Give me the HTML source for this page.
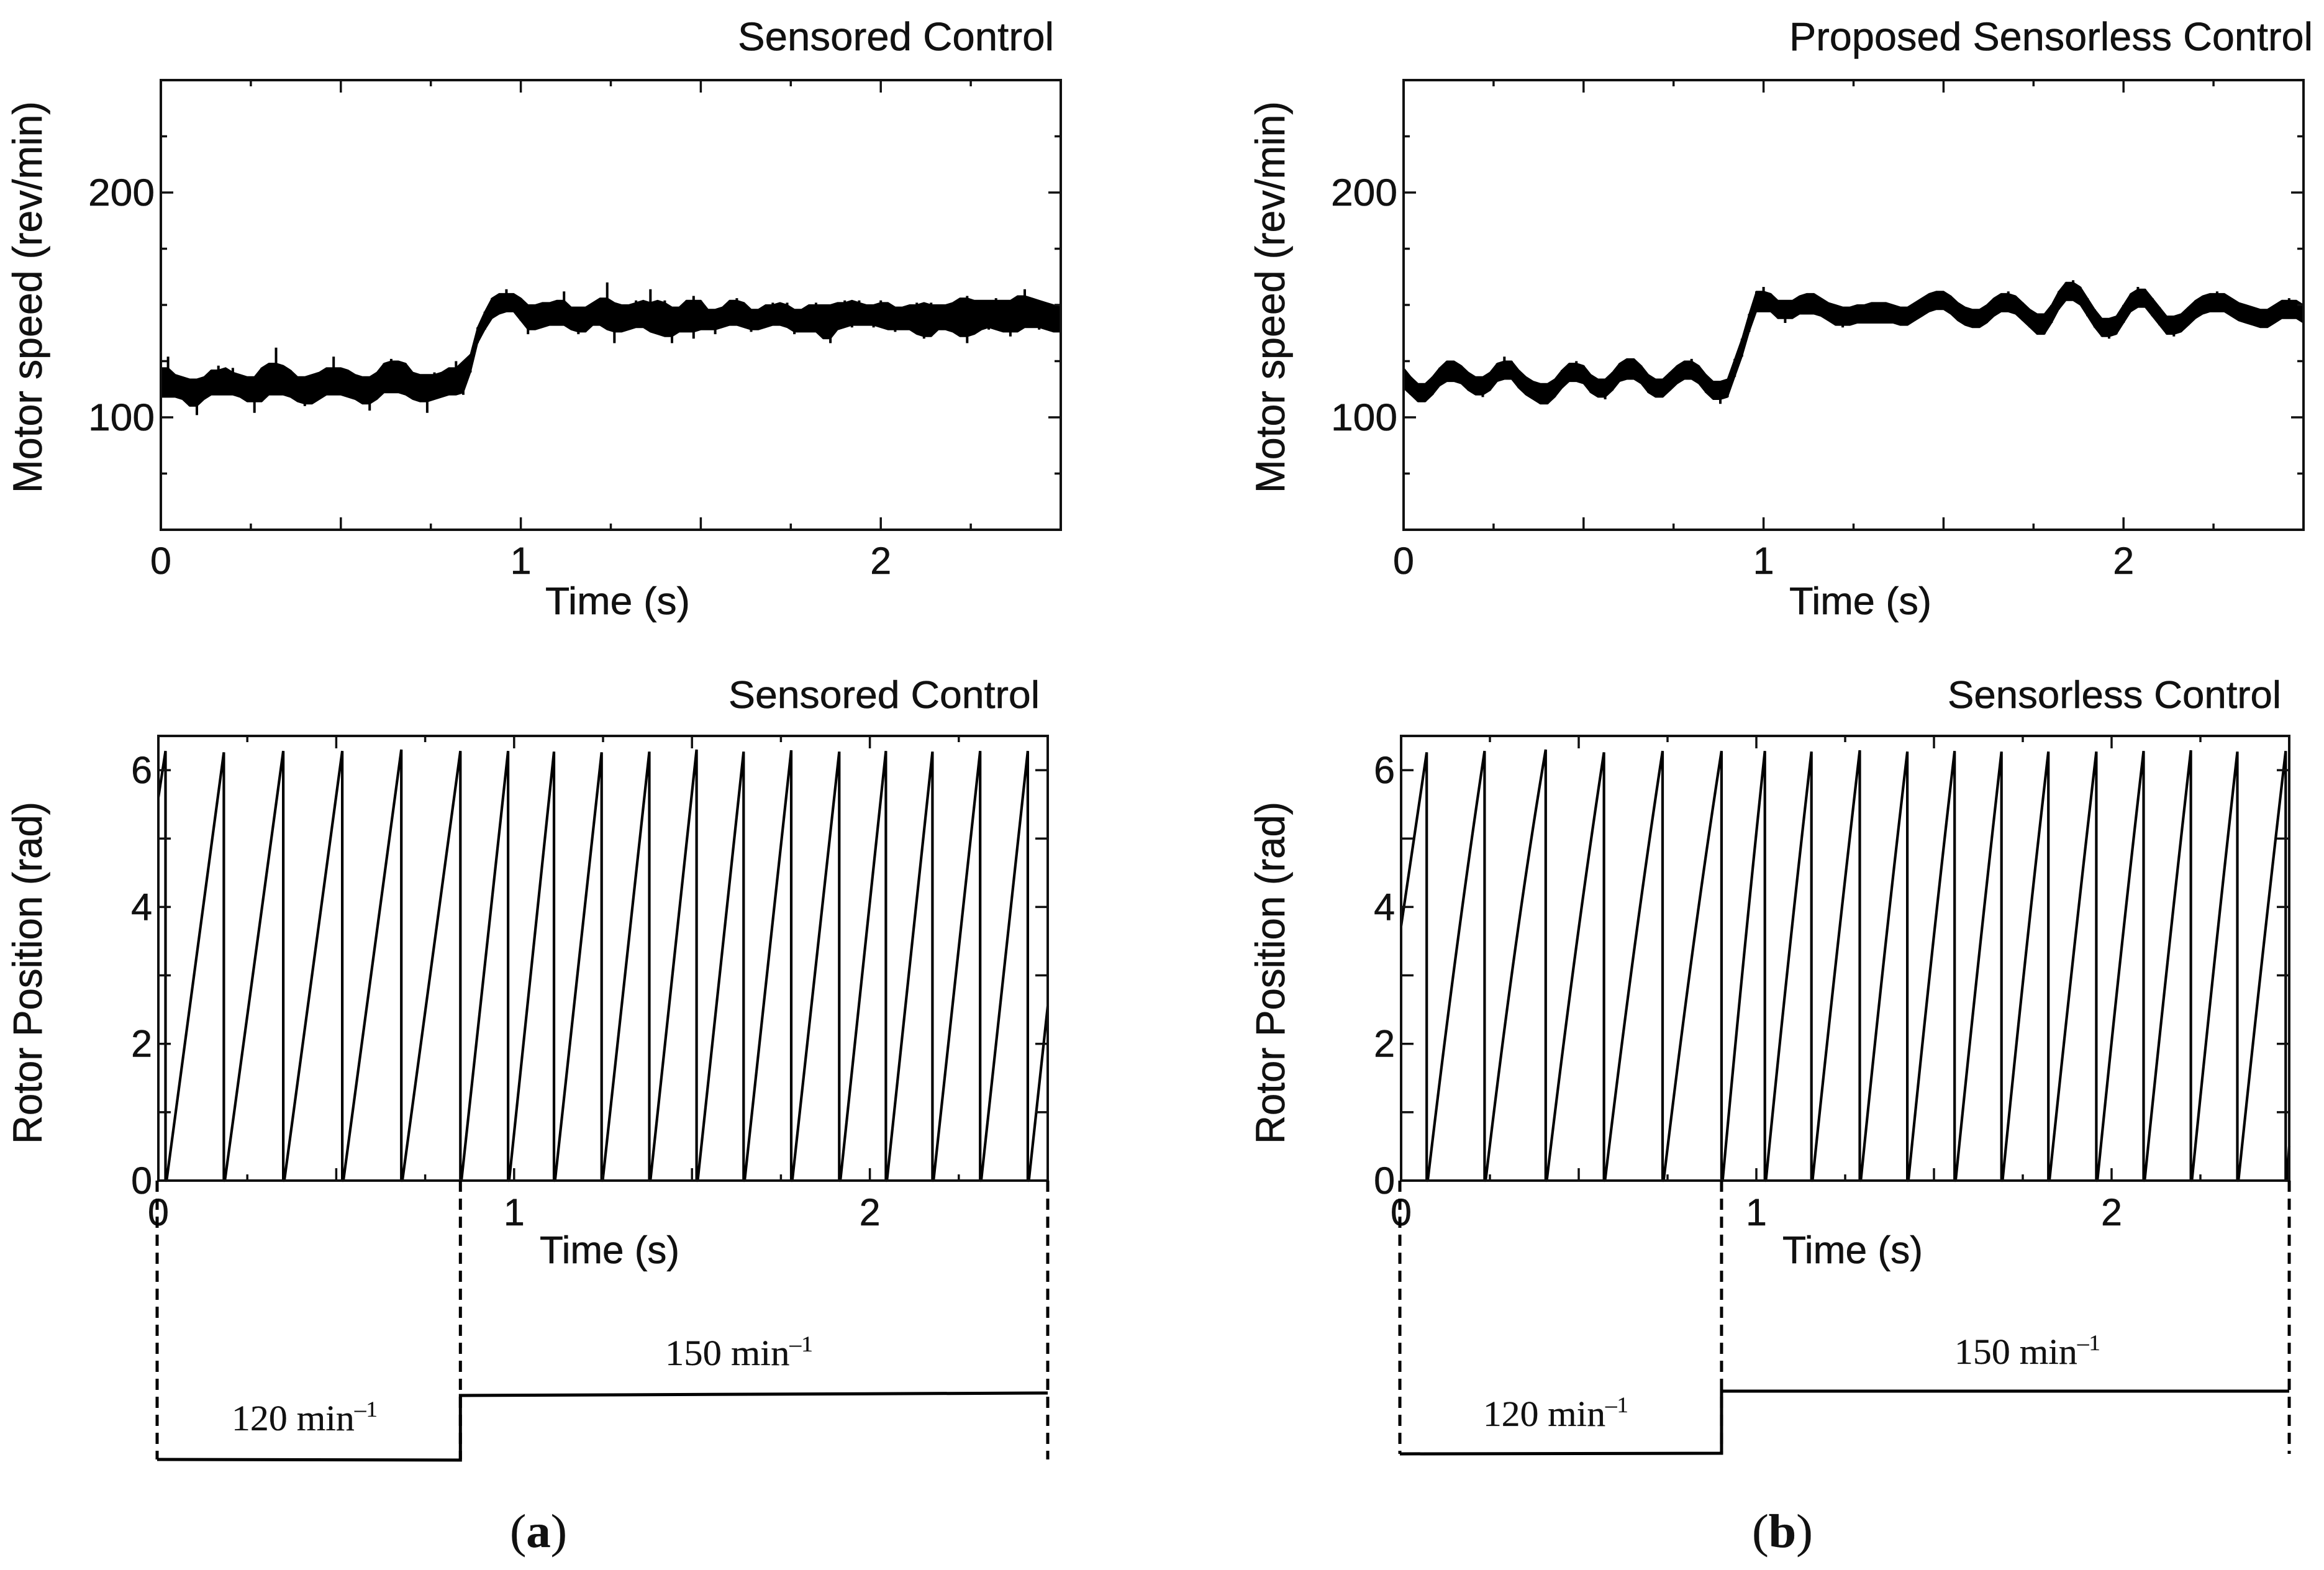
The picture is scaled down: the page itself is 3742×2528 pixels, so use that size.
<!DOCTYPE html>
<html lang="en">
<head>
<meta charset="utf-8">
<title>Motor speed and rotor position: sensored vs sensorless control</title>
<style>
html,body{margin:0;padding:0;background:#fff;}
svg{display:block;}
text{fill:#111;font-family:"Liberation Sans",sans-serif;stroke:#111;stroke-width:0.6;}
.serif{font-family:"Liberation Serif",serif;stroke-width:0.3;}
</style>
</head>
<body>
<svg id="figure" xmlns="http://www.w3.org/2000/svg" width="3742" height="2528" viewBox="0 0 3742 2528">
  <rect x="0" y="0" width="3742" height="2528" fill="#fff"/>

  <text x="1188" y="81" font-size="64" textLength="509" lengthAdjust="spacingAndGlyphs">Sensored Control</text>
  <text x="2881" y="81" font-size="64" textLength="843" lengthAdjust="spacingAndGlyphs">Proposed Sensorless Control</text>
  <text x="1173" y="1140" font-size="62" textLength="501" lengthAdjust="spacingAndGlyphs">Sensored Control</text>
  <text x="3136" y="1140" font-size="62" textLength="537" lengthAdjust="spacingAndGlyphs">Sensorless Control</text>

  <text transform="translate(67 794) rotate(-90)" font-size="66" textLength="631" lengthAdjust="spacingAndGlyphs">Motor speed (rev/min)</text>
  <text transform="translate(2068 794) rotate(-90)" font-size="66" textLength="631" lengthAdjust="spacingAndGlyphs">Motor speed (rev/min)</text>
  <text transform="translate(67 1842) rotate(-90)" font-size="66" textLength="551" lengthAdjust="spacingAndGlyphs">Rotor Position (rad)</text>
  <text transform="translate(2068 1842) rotate(-90)" font-size="66" textLength="551" lengthAdjust="spacingAndGlyphs">Rotor Position (rad)</text>

  <text x="878" y="989" font-size="62" textLength="233" lengthAdjust="spacingAndGlyphs">Time (s)</text>
  <text x="2881" y="989" font-size="62" textLength="229" lengthAdjust="spacingAndGlyphs">Time (s)</text>
  <text x="869" y="2034" font-size="62" textLength="225" lengthAdjust="spacingAndGlyphs">Time (s)</text>
  <text x="2870" y="2034" font-size="62" textLength="226" lengthAdjust="spacingAndGlyphs">Time (s)</text>

  <text class="serif" x="373" y="2303" font-size="58" textLength="235" lengthAdjust="spacingAndGlyphs">120 min<tspan font-size="36" dy="-22">–1</tspan></text>
  <text class="serif" x="1071" y="2198" font-size="58" textLength="238" lengthAdjust="spacingAndGlyphs">150 min<tspan font-size="36" dy="-22">–1</tspan></text>
  <text class="serif" x="2388" y="2296" font-size="58" textLength="234" lengthAdjust="spacingAndGlyphs">120 min<tspan font-size="36" dy="-22">–1</tspan></text>
  <text class="serif" x="3147" y="2196" font-size="58" textLength="235" lengthAdjust="spacingAndGlyphs">150 min<tspan font-size="36" dy="-22">–1</tspan></text>

  <text class="serif" x="821" y="2491" font-size="76" textLength="92" lengthAdjust="spacingAndGlyphs">(<tspan font-weight="bold">a</tspan>)</text>
  <text class="serif" x="2821" y="2491" font-size="76" textLength="98" lengthAdjust="spacingAndGlyphs">(<tspan font-weight="bold">b</tspan>)</text>

  <g id="plots"></g>
</svg>

<script>
// ---------- Shared axis data ----------
const timeMax = 2.5;
const speedSampleStep = 0.02;
const timeTicks = [0, 0.25, 0.5, 0.75, 1, 1.25, 1.5, 1.75, 2, 2.25, 2.5];
const timeMajorTicks = [0, 0.5, 1, 1.5, 2, 2.5];
const timeTickLabels = [0, 1, 2];
const speedTicks = [50, 75, 100, 125, 150, 175, 200, 225, 250];
const speedMajorTicks = [100, 200];
const speedTickLabels = [100, 200];
const positionTicks = [0, 1, 2, 3, 4, 5, 6];
const positionMajorTicks = [0, 1, 2, 3, 4, 5, 6];
const positionTickLabels = [0, 2, 4, 6];

// ---------- Motor speed, sensored (upper / lower edge of the noisy trace, rev/min) ----------
const speedSensoredHigh = [122,127,119,118,117,116,118,121,123,120,122,119,117,118,122,124,131,123,121,118,117,119,120,122,127,122,121,119,118,117,120,124,126,125,124,120,119,118,120,119,122,125,119,128,140,147,153,155,157,155,153,150,149,151,151,152,156,149,149,147,151,153,160,151,150,149,152,151,157,151,152,149,148,152,154,152,148,147,149,152,153,151,148,147,150,151,150,151,148,147,150,151,150,149,151,152,151,152,150,148,152,151,149,148,150,151,149,151,150,148,151,153,154,152,152,150,153,152,151,154,157,153,152,151,150,149];
const speedSensoredLow = [109,110,109,108,105,101,108,110,111,110,110,109,107,102,107,110,112,110,109,107,105,106,108,110,111,110,109,108,106,103,108,111,112,111,110,108,107,102,108,109,110,111,110,120,133,139,144,146,148,147,143,137,139,140,141,142,141,139,137,138,141,141,139,133,138,139,141,140,138,137,136,133,139,138,135,139,139,137,140,141,142,140,138,139,140,141,141,140,137,138,139,138,135,133,139,141,140,141,142,140,141,139,138,139,141,137,135,136,139,140,138,136,133,137,140,139,141,138,136,138,140,141,139,140,138,138];

// ---------- Motor speed, proposed sensorless (upper / lower edge, rev/min) ----------
const speedSensorlessHigh = [122,118,115,115,118,122,125,125,123,120,118,118,120,124,127,125,121,118,116,114,115,117,121,124,125,123,119,117,117,120,124,126,126,123,119,117,117,120,123,125,126,123,119,116,115,117,126,135,146,156,158,155,152,151,152,154,155,155,153,151,150,149,149,150,150,151,151,151,150,149,149,151,153,155,156,156,154,151,149,148,148,150,153,155,156,154,151,148,145,146,150,156,160,161,158,153,148,144,143,145,150,155,158,157,153,149,145,144,146,149,152,154,155,156,155,153,151,150,149,148,148,150,152,153,152,150];
const speedSensorlessLow = [113,110,107,107,110,114,116,117,115,112,110,109,112,116,119,117,113,110,108,106,106,109,113,116,117,115,111,109,108,112,116,118,117,115,111,109,109,112,115,117,118,115,111,108,106,109,118,127,138,147,148,147,144,142,144,146,147,146,145,143,141,140,141,142,142,142,143,142,142,141,141,143,145,147,148,148,146,143,141,140,140,142,145,147,148,146,143,140,137,137,142,148,152,153,150,145,140,136,135,137,142,147,150,149,145,141,137,136,138,141,144,146,147,148,147,145,143,142,141,140,140,142,144,145,144,142];

// ---------- Rotor position, sensored (times of each wrap in s, values in rad) ----------
const positionSensoredWrapTimes = [0.02,0.184,0.351,0.517,0.683,0.849,0.983,1.112,1.246,1.38,1.513,1.645,1.779,1.914,2.045,2.176,2.31,2.444];
const positionSensoredPeaks = [6.28,6.26,6.28,6.28,6.3,6.28,6.28,6.27,6.26,6.27,6.3,6.27,6.29,6.27,6.28,6.27,6.28,6.28];
const positionSensoredMidValues = [];
const positionSensoredStart = 5.6;
const positionSensoredEnd = 2.55;

// ---------- Rotor position, sensorless ----------
const positionSensorlessWrapTimes = [0.072,0.235,0.407,0.571,0.736,0.902,1.024,1.155,1.291,1.425,1.558,1.69,1.822,1.957,2.09,2.223,2.354,2.49];
const positionSensorlessPeaks = [6.26,6.28,6.3,6.26,6.28,6.28,6.28,6.27,6.29,6.27,6.28,6.27,6.27,6.27,6.28,6.29,6.27,6.28];
const positionSensorlessMidValues = [null,3.33,3.43,3.32,3.33,3.35,3.25,3.25,3.22,3.25,3.25,3.22,3.25,3.22,3.25,3.22,3.22,3.22];
const positionSensorlessStart = 3.72;
const positionSensorlessEnd = 0.5;

// ---------- Speed command step strips (event times in s) ----------
const stepTimesSensored = [0, 0.849, 2.5];
const stepTimesSensorless = [0, 0.902, 2.5];

// ---------- Rendering ----------
const SVG_NS = 'http://www.w3.org/2000/svg';
const plots = document.getElementById('plots');

function makeNode(tag, name, parent) {
  const el = document.createElementNS(SVG_NS, tag);
  
  
  parent.appendChild(el);
  return el;
}

function axisFunctions(box, yMin, yMax) {
  return {
    x: function (t) { return box.left + (t / timeMax) * (box.right - box.left); },
    y: function (v) { return box.bottom - ((v - yMin) / (yMax - yMin)) * (box.bottom - box.top); }
  };
}

function addLine(parent, name, x1, y1, x2, y2, width) {
  const l = makeNode('line', name, parent);
  l.setAttribute('x1', x1);
  l.setAttribute('y1', y1);
  l.setAttribute('x2', x2);
  l.setAttribute('y2', y2);
  l.setAttribute('stroke', '#111');
  l.setAttribute('stroke-width', width);
  return l;
}

function addLabel(parent, name, x, y, anchor, str, fit) {
  const t = makeNode('text', name, parent);
  t.setAttribute('x', x);
  t.setAttribute('y', y);
  t.setAttribute('font-size', '61');
  t.setAttribute('text-anchor', anchor);
  if (fit) {
    t.setAttribute('textLength', fit);
    t.setAttribute('lengthAdjust', 'spacingAndGlyphs');
  }
  t.textContent = str;
}

function drawFrame(group, box, scale, cfg) {
  const frame = makeNode('rect', 'plot-frame', group);
  frame.setAttribute('x', box.left);
  frame.setAttribute('y', box.top);
  frame.setAttribute('width', box.right - box.left);
  frame.setAttribute('height', box.bottom - box.top);
  frame.setAttribute('fill', 'none');
  frame.setAttribute('stroke', '#111');
  frame.setAttribute('stroke-width', '4');

  timeTicks.forEach(function (t) {
    const len = timeMajorTicks.indexOf(t) >= 0 ? 20 : 10;
    const x = scale.x(t);
    addLine(group, 'x-tick-bottom', x, box.bottom, x, box.bottom - len, 3.5);
    addLine(group, 'x-tick-top', x, box.top, x, box.top + len, 3.5);
  });
  cfg.yTicks.forEach(function (v) {
    const len = cfg.yMajor.indexOf(v) >= 0 ? 20 : 10;
    const y = scale.y(v);
    addLine(group, 'y-tick-left', box.left, y, box.left + len, y, 3.5);
    addLine(group, 'y-tick-right', box.right, y, box.right - len, y, 3.5);
  });
  timeTickLabels.forEach(function (t) {
    addLabel(group, 'x-tick-label', scale.x(t), cfg.xLabelBaseline, 'middle', String(t));
  });
  cfg.yLabels.forEach(function (v) {
    addLabel(group, 'y-tick-label', box.left - 10, scale.y(v) + 21, 'end', String(v), cfg.yLabelFit);
  });
}

function middleOfThree(a, b, c) {
  return Math.max(Math.min(a, b), Math.min(Math.max(a, b), c));
}

function drawSpeedTrace(group, scale, high, low) {
  const n = high.length;
  let top = '';
  let bottom = '';
  let spikes = '';
  high.forEach(function (h, i) {
    const x = scale.x(i * speedSampleStep).toFixed(1);
    // solid body of the trace: isolated spikes are left to the thin noise strokes
    const coreHigh = middleOfThree(high[Math.max(i - 1, 0)], h, high[Math.min(i + 1, n - 1)]);
    const coreLow = middleOfThree(low[Math.max(i - 1, 0)], low[i], low[Math.min(i + 1, n - 1)]);
    top += (i === 0 ? 'M' : 'L') + x + ' ' + scale.y(coreHigh).toFixed(1) + ' ';
    bottom = 'L' + x + ' ' + scale.y(coreLow).toFixed(1) + ' ' + bottom;
    spikes += 'M' + x + ' ' + scale.y(h).toFixed(1) + ' V' + scale.y(low[i]).toFixed(1) + ' ';
  });
  const body = makeNode('path', 'speed-trace-body', group);
  body.setAttribute('d', top + bottom + 'Z');
  body.setAttribute('fill', '#000');
  body.setAttribute('stroke', '#000');
  body.setAttribute('stroke-width', '2');
  const noise = makeNode('path', 'speed-trace-noise', group);
  noise.setAttribute('d', spikes);
  noise.setAttribute('fill', 'none');
  noise.setAttribute('stroke', '#000');
  noise.setAttribute('stroke-width', '4');
}

function drawSawtooth(group, scale, wraps, peaks, mids, start, end) {
  const lag = 0.003;
  let d = 'M' + scale.x(0).toFixed(1) + ' ' + scale.y(start).toFixed(1) + ' ';
  let prev = 0;
  wraps.forEach(function (t, i) {
    if (mids[i] !== undefined && mids[i] !== null) {
      // curve through the value read at the middle of the ramp
      const control = 2 * mids[i] - peaks[i] / 2;
      d += 'Q' + scale.x((prev + t) / 2).toFixed(1) + ' ' + scale.y(control).toFixed(1) + ' ' + scale.x(t).toFixed(1) + ' ' + scale.y(peaks[i]).toFixed(1) + ' ';
    } else {
      d += 'L' + scale.x(t).toFixed(1) + ' ' + scale.y(peaks[i]).toFixed(1) + ' ';
    }
    d += 'L' + scale.x(t).toFixed(1) + ' ' + scale.y(0).toFixed(1) + ' ';
    d += 'L' + scale.x(t + lag).toFixed(1) + ' ' + scale.y(0).toFixed(1) + ' ';
    prev = t + lag;
  });
  d += 'L' + scale.x(timeMax).toFixed(1) + ' ' + scale.y(end).toFixed(1);
  const path = makeNode('path', 'rotor-position-sawtooth', group);
  path.setAttribute('d', d);
  path.setAttribute('fill', 'none');
  path.setAttribute('stroke', '#000');
  path.setAttribute('stroke-width', '4.2');
  path.setAttribute('stroke-linejoin', 'bevel');
}

function drawStepStrip(group, scale, times, strip) {
  times.forEach(function (t) {
    const x = scale.x(t) - (t === 0 ? 2 : 0);
    const dash = addLine(group, 'speed-command-dashed-guide', x, strip.top, x, strip.bottom, 5);
    dash.setAttribute('stroke', '#000');
    dash.setAttribute('stroke-dasharray', '18 11');
  });
  const x0 = scale.x(times[0]) - 2;
  const x1 = scale.x(times[1]);
  const x2 = scale.x(times[2]);
  const step = makeNode('path', 'speed-command-step', group);
  step.setAttribute('d', 'M' + x0 + ' ' + strip.lowLeft + ' L' + x1 + ' ' + strip.lowRight + ' L' + x1 + ' ' + strip.highLeft + ' L' + x2 + ' ' + strip.highRight);
  step.setAttribute('fill', 'none');
  step.setAttribute('stroke', '#000');
  step.setAttribute('stroke-width', '5');
}

// Top row: motor speed
[
  { name: 'speed-chart-sensored', box: { left: 259, right: 1708, top: 129, bottom: 853 }, high: speedSensoredHigh, low: speedSensoredLow },
  { name: 'speed-chart-sensorless', box: { left: 2260, right: 3709, top: 129, bottom: 853 }, high: speedSensorlessHigh, low: speedSensorlessLow }
].forEach(function (p) {
  const group = makeNode('g', p.name, plots);
  const scale = axisFunctions(p.box, 50, 250);
  drawSpeedTrace(group, scale, p.high, p.low);
  drawFrame(group, p.box, scale, { yTicks: speedTicks, yMajor: speedMajorTicks, yLabels: speedTickLabels, xLabelBaseline: 924, yLabelFit: 107 });
});

// Bottom row: rotor position + command strip
[
  { name: 'position-chart-sensored', box: { left: 255, right: 1687, top: 1185, bottom: 1901 },
    wraps: positionSensoredWrapTimes, peaks: positionSensoredPeaks, mids: positionSensoredMidValues,
    start: positionSensoredStart, end: positionSensoredEnd, steps: stepTimesSensored,
    strip: { top: 1901, bottom: 2350, lowLeft: 2350, lowRight: 2351, highLeft: 2247, highRight: 2243 } },
  { name: 'position-chart-sensorless', box: { left: 2256, right: 3686, top: 1185, bottom: 1901 },
    wraps: positionSensorlessWrapTimes, peaks: positionSensorlessPeaks, mids: positionSensorlessMidValues,
    start: positionSensorlessStart, end: positionSensorlessEnd, steps: stepTimesSensorless,
    strip: { top: 1901, bottom: 2341, lowLeft: 2341, lowRight: 2340, highLeft: 2240, highRight: 2240 } }
].forEach(function (p) {
  const group = makeNode('g', p.name, plots);
  const scale = axisFunctions(p.box, 0, 6.5);
  drawSawtooth(group, scale, p.wraps, p.peaks, p.mids, p.start, p.end);
  drawFrame(group, p.box, scale, { yTicks: positionTicks, yMajor: positionMajorTicks, yLabels: positionTickLabels, xLabelBaseline: 1973 });
  drawStepStrip(group, scale, p.steps, p.strip);
});
</script>
</body>
</html>
